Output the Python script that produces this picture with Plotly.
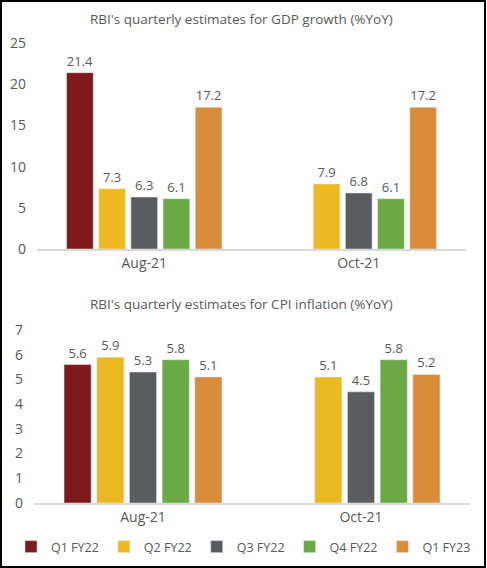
import plotly.graph_objects as go

# categories and series
months = ["Aug-21", "Oct-21"]
quarters = ["Q1 FY22", "Q2 FY22", "Q3 FY22", "Q4 FY22", "Q1 FY23"]
colors = ["#7e1a1c", "#edb921", "#5b5c5f", "#6aa943", "#d98d3b"]

# GDP growth estimates (%YoY), one list per quarter: [Aug-21, Oct-21]
gdp_q1_fy22 = [21.4, None]
gdp_q2_fy22 = [7.3, 7.9]
gdp_q3_fy22 = [6.3, 6.8]
gdp_q4_fy22 = [6.1, 6.1]
gdp_q1_fy23 = [17.2, 17.2]

# CPI inflation estimates (%YoY)
cpi_q1_fy22 = [5.6, None]
cpi_q2_fy22 = [5.9, 5.1]
cpi_q3_fy22 = [5.3, 4.5]
cpi_q4_fy22 = [5.8, 5.8]
cpi_q1_fy23 = [5.1, 5.2]

gdp = [gdp_q1_fy22, gdp_q2_fy22, gdp_q3_fy22, gdp_q4_fy22, gdp_q1_fy23]
cpi = [cpi_q1_fy22, cpi_q2_fy22, cpi_q3_fy22, cpi_q4_fy22, cpi_q1_fy23]

W, H = 487, 568
FONT = "Open Sans"
GREY = "#595959"

fig = go.Figure()

for q, c, g in zip(quarters, colors, gdp):
    fig.add_bar(x=months, y=g, name=q, marker_color=c, xaxis="x", yaxis="y",
                text=[None if v is None else f"{v:.1f}" for v in g],
                textposition="outside", cliponaxis=False,
                textfont=dict(size=13, color=GREY, family=FONT),
                showlegend=False)

for q, c, v in zip(quarters, colors, cpi):
    fig.add_bar(x=months, y=v, name=q, marker_color=c, xaxis="x2", yaxis="y2",
                text=[None if a is None else f"{a:.1f}" for a in v],
                textposition="outside", cliponaxis=False,
                textfont=dict(size=13, color=GREY, family=FONT))

axis_common = dict(showgrid=False, zeroline=False, ticks="",
                   tickfont=dict(size=14, color=GREY, family=FONT))

fig.update_layout(
    width=W, height=H,
    margin=dict(l=0, r=0, t=0, b=0, autoexpand=False),
    paper_bgcolor="white", plot_bgcolor="white",
    font=dict(family=FONT, color=GREY),
    barmode="group", bargap=0.25, bargroupgap=0.17,
    xaxis=dict(domain=[37 / W, 466 / W], anchor="y", showline=True,
               linecolor="#d9d9d9", linewidth=1.5, **axis_common),
    yaxis=dict(domain=[1 - 249 / H, 1 - 43 / H], anchor="x", range=[0, 25],
               dtick=5, showline=False, ticklabelstandoff=10, **axis_common),
    xaxis2=dict(domain=[34 / W, 470 / W], anchor="y2", showline=True,
                linecolor="#d9d9d9", linewidth=1.5, **axis_common),
    yaxis2=dict(domain=[1 - 503 / H, 1 - 330 / H], anchor="x2", range=[0, 7],
                dtick=1, showline=False, ticklabelstandoff=10, **axis_common),
    legend=dict(orientation="h", x=0.5, xanchor="center", y=1 - 547 / H,
                yanchor="middle", font=dict(size=12.5, color=GREY, family=FONT),
                itemwidth=30, traceorder="normal", tracegroupgap=0),
    showlegend=True,
)

titles = [("RBI's quarterly estimates for GDP growth (%YoY)", 19),
          ("RBI's quarterly estimates for CPI inflation (%YoY)", 304)]
for txt, ypx in titles:
    fig.add_annotation(text=txt, xref="paper", yref="paper", x=241 / W,
                       y=1 - ypx / H, showarrow=False, xanchor="center",
                       yanchor="middle", font=dict(size=13.5, color=GREY, family=FONT))

# outer black frame
fig.add_shape(type="rect", xref="paper", yref="paper", x0=1 / W, x1=1 - 2 / W,
              y0=1 / H, y1=1 - 1 / H, line=dict(color="black", width=2))

fig.write_html("out.html", config={"displayModeBar": False},
               post_script="document.body.style.margin='0';document.body.style.overflow='hidden';")
